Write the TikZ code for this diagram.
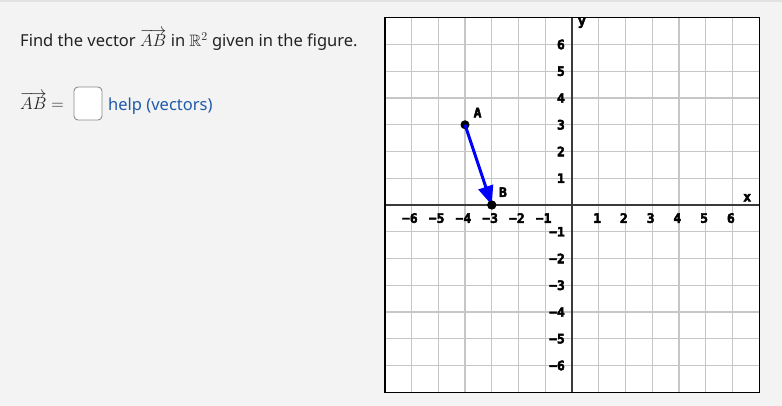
\documentclass[tikz,border=0pt]{standalone}
\usepackage{amssymb}
\usepackage{fontspec}
\setmainfont{Noto Sans}
\newfontfamily\lblfont{DejaVu Sans Mono}
\usetikzlibrary{arrows.meta}
\definecolor{bg}{HTML}{F3F3F3}
\definecolor{topc}{HTML}{E2E2E2}
\definecolor{gridc}{HTML}{C6C6C6}
\definecolor{axisc}{HTML}{3A3A3A}
\definecolor{helpc}{HTML}{1F5AA8}
\definecolor{boxc}{HTML}{8C8C8C}
\definecolor{textc}{HTML}{222222}
\newcommand{\vecAB}{\overrightarrow{\vphantom{\big(}AB}}
\newcommand{\heavy}[1]{\special{pdf:literal direct 2 Tr 0.45 w}#1\special{pdf:literal direct 0 Tr}}
\begin{document}
\begin{tikzpicture}[x=1pt,y=-1pt,
  body/.style={inner sep=0pt, text=textc, font=\fontsize{16.5}{20}\selectfont},
  helptext/.style={inner sep=0pt, text=helpc, font=\fontsize{16.5}{20}\selectfont},
  ansbox/.style={draw=boxc, fill=white, rounded corners=4pt, line width=0.9pt, minimum width=28pt, minimum height=33pt, inner sep=0pt},
  gridline/.style={draw=gridc, line width=1.2pt},
  axisline/.style={draw=axisc, line width=1.1pt},
  frame/.style={draw=black, line width=1.5pt},
  ticklbl/.style={inner sep=0pt, font=\lblfont\bfseries\fontsize{13}{13}\selectfont},
  ptdot/.style={circle, fill=black, minimum size=9pt, inner sep=0pt},
  vecarrow/.style={draw=blue, line width=3pt, -{Triangle[length=19pt,width=15pt]}}
]
\useasboundingbox (0,0) rectangle (782,406);
\fill[bg] (0,0) rectangle (782,406);
\fill[topc] (0,0) rectangle (782,2);
\node[body, anchor=base west] (q) at (20,47) {Find the vector $\vecAB$ in $\mathbb{R}^2$ given in the figure.};
\node[body, anchor=base west] (lhs) at (20,110) {$\vecAB=$};
\node[ansbox] (ans) at (88,103.5) {};
\node[helptext, anchor=base west] (help) at (108,110.5) {help (vectors)};
\begin{scope}[shift={(572pt,-205pt)}, x=26.75pt, y=26.75pt]
  \fill[white] (-7,-7) rectangle (7,7);
  \foreach \i in {-6,...,6} {
    \draw[gridline] (\i,-7) -- (\i,7);
    \draw[gridline] (-7,\i) -- (7,\i);
  }
  \draw[axisline] (-7,0) -- (7,0);
  \draw[axisline] (0,-7) -- (0,7);
  \draw[frame] (-7,-7) rectangle (7,7);
  \foreach \i in {1,...,6} {
    \node[ticklbl] (xp\i) at (\i-0.06,-0.49) {\heavy{\i}};
    \node[ticklbl] (xn\i) at (-\i-0.06,-0.49) {\heavy{−\i}};
    \node[ticklbl, anchor=east] (yp\i) at (-0.26,\i) {\heavy{\i}};
    \node[ticklbl, anchor=east] (yn\i) at (-0.26,-\i) {\heavy{−\i}};
  }
  \node[ticklbl] (ylbl) at (0.37,6.8) {\heavy{y}};
  \node[ticklbl] (xlbl) at (6.55,0.27) {\heavy{x}};
  \node[ptdot] (A) at (-4,3) {};
  \node[ptdot] (B) at (-3,0) {};
  \draw[vecarrow] (A.center) -- (B.center);
  \node[ptdot] at (B) {};
  \node[ticklbl] (Albl) at (-3.53,3.45) {\heavy{A}};
  \node[ticklbl] (Blbl) at (-2.58,0.48) {\heavy{B}};
\end{scope}
\end{tikzpicture}
\end{document}
